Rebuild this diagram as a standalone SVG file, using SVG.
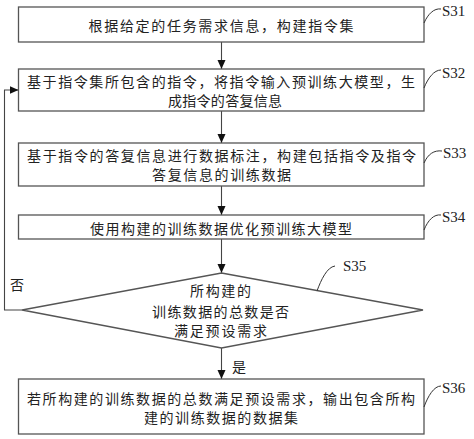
<svg xmlns="http://www.w3.org/2000/svg" width="474" height="439" viewBox="0 0 474 439">
<style>
.box{fill:#fff;stroke:#555;stroke-width:1.3}
.t{font-family:"Noto Sans CJK SC","Noto Sans",sans-serif;font-size:14px;fill:#222;text-anchor:middle;dominant-baseline:central}
.lbl{font-family:"Liberation Serif",serif;font-size:15px;fill:#222}
.ln{fill:none;stroke:#444;stroke-width:1.1}
.lead{fill:none;stroke:#333;stroke-width:1}
</style>
<defs>
<marker id="ah" markerWidth="10" markerHeight="10" refX="9" refY="5" orient="auto" markerUnits="userSpaceOnUse">
<path d="M0,1 L9,5 L0,9 Z" fill="#111"/>
</marker>
</defs>
<rect width="474" height="439" fill="#fff"/>
<g id="connectors">
<line class="ln" x1="221.5" y1="42" x2="221.5" y2="69" marker-end="url(#ah)"/>
<line class="ln" x1="221.5" y1="111" x2="221.5" y2="143" marker-end="url(#ah)"/>
<line class="ln" x1="221.5" y1="186" x2="221.5" y2="215" marker-end="url(#ah)"/>
<line class="ln" x1="221.5" y1="239" x2="221.5" y2="273" marker-end="url(#ah)"/>
<line class="ln" x1="221.5" y1="348" x2="221.5" y2="379" marker-end="url(#ah)"/>
<polyline class="ln" points="22,310 4.5,310 4.5,90 18.5,90" marker-end="url(#ah)"/>
<text class="t" x="239" y="366">是</text>
<text class="t" x="17" y="284">否</text>
</g>
<g id="S31">
<rect class="box" x="18.5" y="7" width="405.5" height="35"/>
<text class="t" x="221" y="25" textLength="265" lengthAdjust="spacing">根据给定的任务需求信息，构建指令集</text>
<path class="lead" d="M424,23 C428,14 434,8 441,9"/>
<text class="lbl" x="442" y="16">S31</text>
</g>
<g id="S32">
<rect class="box" x="18.5" y="69" width="405.5" height="42"/>
<text class="t" x="221" y="80.5" textLength="388" lengthAdjust="spacing">基于指令集所包含的指令，将指令输入预训练大模型，生</text>
<text class="t" x="225" y="99.5" textLength="114" lengthAdjust="spacing">成指令的答复信息</text>
<path class="lead" d="M424,88 C428,78 434,70 441,70"/>
<text class="lbl" x="442" y="78">S32</text>
</g>
<g id="S33">
<rect class="box" x="18.5" y="143" width="405.5" height="43"/>
<text class="t" x="221.5" y="154.5" textLength="389" lengthAdjust="spacing">基于指令的答复信息进行数据标注，构建包括指令及指令</text>
<text class="t" x="221.5" y="173.5" textLength="139" lengthAdjust="spacing">答复信息的训练数据</text>
<path class="lead" d="M424,163 C428,154 434,150 442,151"/>
<text class="lbl" x="443" y="158">S33</text>
</g>
<g id="S34">
<rect class="box" x="18.5" y="215" width="405.5" height="24"/>
<text class="t" x="221" y="227.5" textLength="262" lengthAdjust="spacing">使用构建的训练数据优化预训练大模型</text>
<path class="lead" d="M424,230 C428,220 434,214 441,215"/>
<text class="lbl" x="442" y="222">S34</text>
</g>
<g id="S35">
<polygon class="box" points="221.5,273 423,310 221.5,348 22,310"/>
<text class="t" x="220.5" y="290" textLength="61" lengthAdjust="spacing">所构建的</text>
<text class="t" x="220.5" y="310.5" textLength="137" lengthAdjust="spacing">训练数据的总数是否</text>
<text class="t" x="220.5" y="330" textLength="93" lengthAdjust="spacing">满足预设需求</text>
<path class="lead" d="M317,291 C321,280 327,267 335,266"/>
<text class="lbl" x="343" y="271">S35</text>
</g>
<g id="S36">
<rect class="box" x="18.5" y="379" width="405.5" height="55"/>
<text class="t" x="221" y="397.5" textLength="388" lengthAdjust="spacing">若所构建的训练数据的总数满足预设需求，输出包含所构</text>
<text class="t" x="221" y="417" textLength="154" lengthAdjust="spacing">建的训练数据的数据集</text>
<path class="lead" d="M424,407 C428,396 434,386 441,386"/>
<text class="lbl" x="442" y="393">S36</text>
</g>
</svg>
